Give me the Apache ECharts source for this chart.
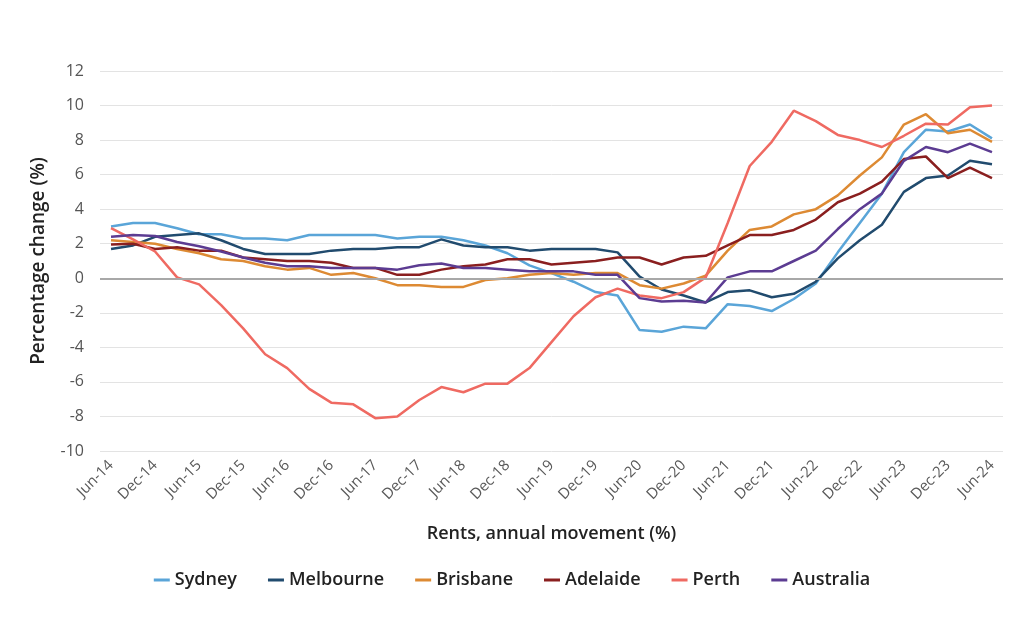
<!DOCTYPE html>
<html>
<head>
<meta charset="utf-8">
<title>Rents, annual movement</title>
<script src="https://cdn.jsdelivr.net/npm/echarts@6/dist/echarts.min.js"></script>
<style>
  html, body { margin: 0; padding: 0; background: #fff; }
  #chart { width: 1024px; height: 622px; }
</style>
</head>
<body>
<div id="chart"></div>
<script>
// quarters Jun-14 .. Jun-24
var quarters = [
  'Jun-14','Sep-14','Dec-14','Mar-15','Jun-15','Sep-15','Dec-15','Mar-16','Jun-16','Sep-16',
  'Dec-16','Mar-17','Jun-17','Sep-17','Dec-17','Mar-18','Jun-18','Sep-18','Dec-18','Mar-19',
  'Jun-19','Sep-19','Dec-19','Mar-20','Jun-20','Sep-20','Dec-20','Mar-21','Jun-21','Sep-21',
  'Dec-21','Mar-22','Jun-22','Sep-22','Dec-22','Mar-23','Jun-23','Sep-23','Dec-23','Mar-24','Jun-24'
];

var sydney = [3.0, 3.2, 3.2, 2.9, 2.55, 2.55, 2.3, 2.3, 2.2, 2.5, 2.5, 2.5, 2.5, 2.3, 2.4,
  2.4, 2.2, 1.9, 1.45, 0.75, 0.3, -0.2, -0.8, -1.0, -3.0, -3.1, -2.8, -2.9,
  -1.5, -1.6, -1.9, -1.2, -0.3, 1.5, 3.2, 4.9, 7.3, 8.6, 8.5, 8.9, 8.1];
var melbourne = [1.7, 1.9, 2.4, 2.5, 2.6, 2.2, 1.7, 1.4, 1.4, 1.4, 1.6, 1.7, 1.7, 1.8, 1.8,
  2.25, 1.9, 1.8, 1.8, 1.6, 1.7, 1.7, 1.7, 1.5, 0.1, -0.65, -1.0, -1.4,
  -0.8, -0.7, -1.1, -0.9, -0.2, 1.15, 2.2, 3.1, 5.0, 5.8, 5.95, 6.8, 6.6];
var brisbane = [2.2, 2.1, 2.0, 1.7, 1.45, 1.1, 1.0, 0.7, 0.5, 0.6, 0.2, 0.3, 0.0, -0.4, -0.4,
  -0.5, -0.5, -0.1, 0.0, 0.2, 0.3, 0.2, 0.3, 0.3, -0.4, -0.6, -0.3, 0.15,
  1.6, 2.8, 3.0, 3.7, 4.0, 4.8, 5.95, 7.0, 8.9, 9.5, 8.4, 8.6, 7.9];
var adelaide = [1.95, 2.0, 1.7, 1.8, 1.6, 1.6, 1.2, 1.1, 1.0, 1.0, 0.9, 0.6, 0.6, 0.2, 0.2,
  0.5, 0.7, 0.8, 1.1, 1.1, 0.8, 0.9, 1.0, 1.2, 1.2, 0.8, 1.2, 1.3,
  1.9, 2.5, 2.5, 2.8, 3.4, 4.4, 4.9, 5.6, 6.9, 7.05, 5.8, 6.4, 5.8];
var perth = [2.9, 2.25, 1.55, 0.05, -0.35, -1.55, -2.9, -4.4, -5.2, -6.4, -7.2, -7.3, -8.1, -8.0, -7.05,
  -6.3, -6.6, -6.1, -6.1, -5.2, -3.7, -2.2, -1.1, -0.6, -1.0, -1.15, -0.8, 0.05,
  3.2, 6.5, 7.9, 9.7, 9.1, 8.3, 8.0, 7.6, 8.25, 8.95, 8.9, 9.9, 10.0];
var australia = [2.4, 2.5, 2.45, 2.1, 1.85, 1.55, 1.2, 0.9, 0.7, 0.7, 0.6, 0.6, 0.6, 0.5, 0.75,
  0.85, 0.6, 0.6, 0.5, 0.4, 0.4, 0.4, 0.2, 0.2, -1.15, -1.35, -1.3, -1.4,
  0.05, 0.4, 0.4, 1.0, 1.6, 2.85, 4.0, 4.9, 6.8, 7.6, 7.3, 7.8, 7.3];

var seriesNames = ['Sydney', 'Melbourne', 'Brisbane', 'Adelaide', 'Perth', 'Australia'];
var seriesData = [sydney, melbourne, brisbane, adelaide, perth, australia];
var colors = ['#5aa5d8', '#214b6e', '#dd8a33', '#8a1f1f', '#ef6a62', '#5c3c92'];

var myChart = echarts.init(document.getElementById('chart'));

var series = seriesNames.map(function (name, i) {
  return {
    name: name,
    type: 'line',
    data: seriesData[i],
    showSymbol: false,
    symbol: 'none',
    lineStyle: { width: 2.5, color: colors[i] },
    itemStyle: { color: colors[i] },
    z: 3
  };
});

var option = {
  textStyle: { fontFamily: 'Open Sans' },
  animation: false,
  grid: { left: 100, right: 21, top: 71, bottom: 171 },
  legend: {
    top: 566,
    left: 'center',
    icon: 'rect',
    itemWidth: 16,
    itemHeight: 3,
    itemGap: 31,
    textStyle: { fontSize: 18, color: '#222', fontWeight: 600, fontFamily: 'Open Sans' },
    data: seriesNames
  },
  xAxis: {
    type: 'category',
    data: quarters,
    boundaryGap: true,
    name: 'Rents, annual movement (%)',
    nameLocation: 'middle',
    nameGap: 74,
    nameTextStyle: { fontSize: 18, color: '#222', fontWeight: 600 },
    axisLine: { show: false },
    axisTick: { show: false },
    axisLabel: { interval: 1, rotate: 45, fontSize: 15, color: '#595959', margin: 12 }
  },
  yAxis: {
    type: 'value',
    min: -10,
    max: 12,
    interval: 2,
    name: 'Percentage change (%)',
    nameLocation: 'middle',
    nameGap: 52,
    nameTextStyle: { fontSize: 19, color: '#222', fontWeight: 600 },
    axisLine: { show: false },
    axisTick: { show: false },
    axisLabel: { fontSize: 16, color: '#555', margin: 16 },
    splitLine: { lineStyle: { color: '#e3e3e3', width: 1 } }
  },
  series: series.concat([{
    type: 'line',
    data: [],
    silent: true,
    markLine: {
      symbol: 'none',
      silent: true,
      label: { show: false },
      lineStyle: { color: '#a8a8a8', width: 2, type: 'solid' },
      data: [{ yAxis: 0 }]
    },
    z: 2
  }])
};

myChart.setOption(option);
</script>
</body>
</html>
